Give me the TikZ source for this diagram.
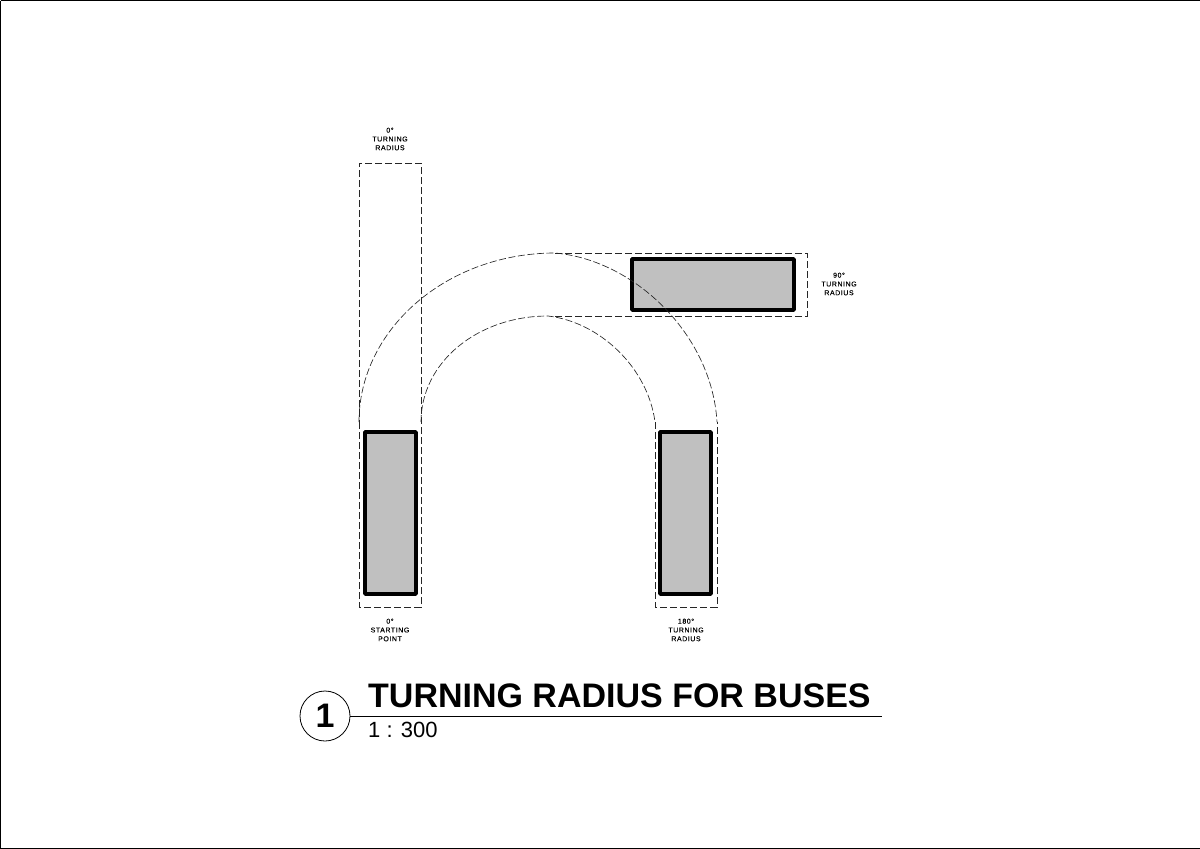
\documentclass[tikz,border=0pt]{standalone}
\usepackage{fontspec}
\setmainfont{Liberation Sans}
\definecolor{busgray}{HTML}{C0C0C0}
\tikzset{
 bus/.style={draw=black,fill=busgray,line width=3.6pt,line join=round},
 envelope/.style={draw=black!85,line width=0.8pt,dash pattern=on 7pt off 3pt},
 sweep/.style={draw=black!85,line width=0.65pt,dash pattern=on 7pt off 2.6pt},
 small/.style={font=\fontsize{7}{8.8}\selectfont\addfontfeatures{LetterSpace=8,FakeBold=0.25},align=center,inner sep=0pt,text=black},
}
\begin{document}
\begin{tikzpicture}[x=1pt,y=-1pt]
\useasboundingbox (0,0) rectangle (1200,849);
\draw[black,line width=1.2pt] (0.5,0.5) -- (1199.5,0.5) (0.5,0.5) -- (0.5,848.5) -- (1199.5,848.5);
% buses
\draw[bus] (365,432) rectangle (416,594);
\draw[bus] (660,432) rectangle (711,594);
\draw[bus] (632,259) rectangle (794,310);
% swept paths
\draw[envelope] (359,422) -- (359,607) -- (421,607) -- (421,163) -- (359,163) -- (359,422);
\draw[envelope] (655,422) -- (655,607) -- (717,607) -- (717,422);
\draw[envelope] (555,253) -- (807,253) -- (807,316) -- (553,316);
\draw[sweep] (359,422) .. controls (359,329) and (447,253) .. (555,253)
  .. controls (635,260) and (712,335) .. (717,422);
\draw[sweep] (421,422) .. controls (421,362) and (478,316) .. (548,316)
  .. controls (600,322) and (648,368) .. (655,422);
% labels
\node[small] (a) at (390,139) {0°\\TURNING\\RADIUS};
\node[small] (b) at (839,284) {90°\\TURNING\\RADIUS};
\node[small] (c) at (390,630) {0°\\STARTING\\POINT};
\node[small] (d) at (686,630) {180°\\TURNING\\RADIUS};
% title
\node[draw=black,circle,line width=0.8pt,minimum size=50pt,inner sep=0pt,font=\bfseries\fontsize{34}{34}\selectfont] (num) at (325,716) {1};
\draw[black,line width=0.9pt] (num.east) -- (882,716) coordinate (lineend);
\node[anchor=base west,inner sep=0pt,font=\bfseries\fontsize{34}{36}\selectfont] (title) at (368,707) {TURNING RADIUS FOR BUSES};
\node[anchor=base west,inner sep=0pt,font=\fontsize{22}{24}\selectfont] (scale) at (368,737) {1 : 300};
\end{tikzpicture}
\end{document}
